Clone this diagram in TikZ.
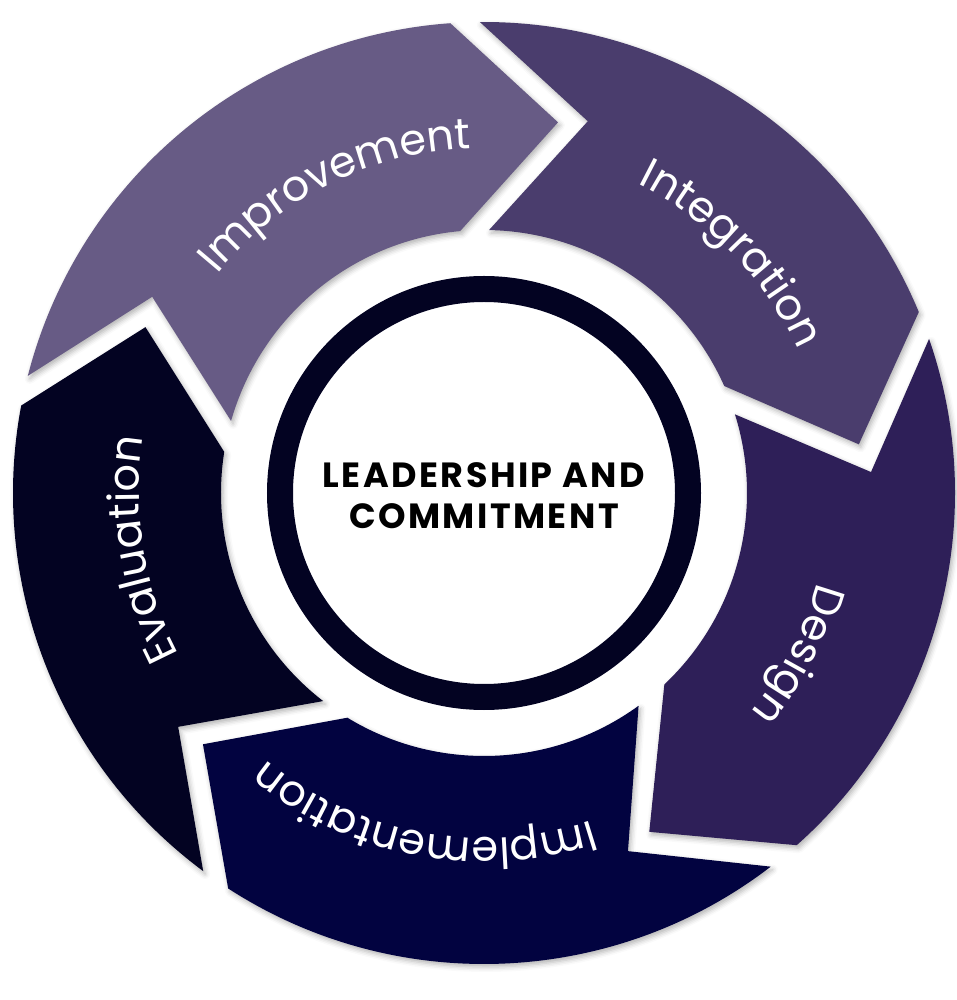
\documentclass[tikz,border=0pt]{standalone}
\usepackage{fontspec}
\setmainfont{Poppins}
\usetikzlibrary{decorations.text,shadows.blur}
\definecolor{cImp}{RGB}{103,91,133}
\definecolor{cInt}{RGB}{74,61,109}
\definecolor{cDes}{RGB}{46,31,88}
\definecolor{cImpl}{RGB}{2,3,64}
\definecolor{cEva}{RGB}{3,3,34}
\newcommand\lblfont{\fontsize{43}{45}\selectfont\color{white}}
\begin{document}
\begin{tikzpicture}[x=1pt,y=1pt,
  seg/.style={draw=none,blur shadow={shadow xshift=2pt,shadow yshift=-3pt,shadow blur radius=5pt,shadow opacity=30}},
  lbl/.style={decorate,decoration={text along path,text align=center,text color=white,text={|\lblfont|#1}}}]
\useasboundingbox (-484,-507) rectangle (472,493);
% segments
\fill[cImp,seg] (165.6:471) arc[start angle=165.6,end angle=94.1,radius=471] -- (78.7:378) -- (95.2:263) arc[start angle=95.2,end angle=164.1,radius=263] -- (149.4:385.5) -- cycle;
\fill[cInt,seg] (90.5:471) arc[start angle=90.5,end angle=22.6,radius=471] -- (7.4:378) -- (24.0:263) arc[start angle=24.0,end angle=88.9,radius=263] -- (74.4:386) -- cycle;
\fill[cDes,seg] (19.1:471) arc[start angle=19.1,end angle=-48.4,radius=471] -- (-64.0:377) -- (-46.7:263) arc[start angle=-46.7,end angle=17.4,radius=263] -- (3.1:387.6) -- cycle;
\fill[cImpl,seg] (-52.5:471) arc[start angle=-52.5,end angle=-122.9,radius=471] -- (-138.2:377) -- (-121.3:263) arc[start angle=-121.3,end angle=-54.0,radius=263] -- (-68.1:386) -- cycle;
\fill[cEva,seg] (-126.6:471) arc[start angle=-126.6,end angle=-190.7,radius=471] -- (-206.1:377) -- (-189.0:263) arc[start angle=-189.0,end angle=-127.7,radius=263] -- (-142.6:385) -- cycle;
% labels
\path[lbl=Improvement] (156.4:345) arc[start angle=156.4,end angle=76.4,radius=345];
\path[lbl=Integration] (84:345) arc[start angle=84,end angle=4,radius=345];
\path[lbl=Design] (12.8:345) arc[start angle=12.8,end angle=-67.2,radius=345];
\path[lbl=Implementation] (-60.6:345) arc[start angle=-60.6,end angle=-140.6,radius=345];
\path[lbl=Evaluation] (-130.7:345) arc[start angle=-130.7,end angle=-210.7,radius=345];
% centre
\draw[cEva,line width=26] (0,0) circle[radius=204];
\node[font=\bfseries\fontsize{35}{41}\selectfont\addfontfeatures{LetterSpace=7},align=center,text=black] (lc) at (0,-3) {LEADERSHIP AND\\COMMITMENT};
\end{tikzpicture}
\end{document}
